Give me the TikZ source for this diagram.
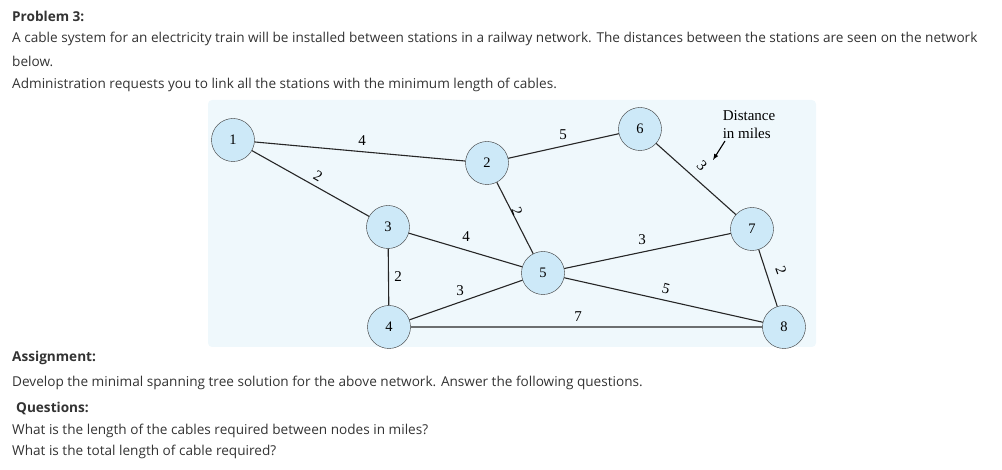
\documentclass[tikz,border=0pt]{standalone}
\usepackage{fontspec}
\setmainfont{Open Sans}
\newfontfamily\serifd{Liberation Serif}
\begin{document}
\begin{tikzpicture}[x=1pt,y=-1pt,
 txt/.style={anchor=west,inner sep=0pt,font=\fontsize{13.6}{16}\selectfont,text=black!80},
 hd/.style={txt,font=\bfseries\fontsize{13.6}{16}\selectfont},
 stn/.style={circle,draw=black!80,fill=nodeblue,minimum size=43pt,inner sep=0pt,font=\serifd\fontsize{14.5}{16}\selectfont},
 wt/.style={font=\serifd\fontsize{15}{16}\selectfont,inner sep=1pt},
 edge/.style={draw=black!85,line width=1.1pt}]
\definecolor{nodeblue}{HTML}{CDE9F8}
\definecolor{panel}{HTML}{EFF8FC}
\useasboundingbox (0,0) rectangle (1002,470);
\fill[panel,rounded corners=4pt] (208,100) rectangle (816,347);
\node[hd] (t1) at (12,16) {Problem 3:};
\node[txt] (t2) at (12,39) {A cable system for an electricity train will be installed between stations in a railway network. The distances between the stations are seen on the network};
\node[txt] (t3) at (12,61) {below.};
\node[txt] (t4) at (12,85) {Administration requests you to link all the stations with the minimum length of cables.};
\node[hd] (t5) at (12,358) {Assignment:};
\node[txt] (t6) at (12,383) {Develop the minimal spanning tree solution for the above network. Answer the following questions.};
\node[hd] (t7) at (16,408) {Questions:};
\node[txt] (t8) at (12,431) {What is the length of the cables required between nodes in miles?};
\node[txt] (t9) at (12,452) {What is the total length of cable required?};
\node[stn] (n1) at (233,140) {1};
\node[stn] (n2) at (487,163) {2};
\node[stn] (n3) at (388,227) {3};
\node[stn] (n4) at (389,327) {4};
\node[stn] (n5) at (543,273) {5};
\node[stn] (n6) at (640,129) {6};
\node[stn] (n7) at (752,229) {7};
\node[stn] (n8) at (784,327) {8};
\path[edge] (n1)--(n2) (n1)--(n3) (n2)--(n6) (n2)--(n5) (n3)--(n5) (n3)--(n4)
 (n4)--(n5) (n4)--(n8) (n5)--(n7) (n5)--(n8) (n6)--(n7) (n7)--(n8);
\node[wt] (w12) at (362,141) {4};
\node[wt,rotate=-30] (w13) at (318,176) {2};
\node[wt] (w26) at (563,135) {5};
\node[wt,rotate=-70] (w25) at (517,211) {2};
\node[wt] (w35) at (466,237) {4};
\node[wt] (w34) at (398,277) {2};
\node[wt] (w45) at (460,291) {3};
\node[wt] (w57) at (642,240) {3};
\node[wt,rotate=-15] (w58) at (666,289) {5};
\node[wt] (w48) at (578,317) {7};
\node[wt,rotate=-45] (w67) at (702,166) {3};
\node[wt,rotate=-70] (w78) at (781,270) {2};
\node[font=\serifd\fontsize{15}{18}\selectfont,align=left,inner sep=0pt] (dist) at (749,125) {Distance\\ in miles};
\coordinate (tip) at (713,160);
\coordinate (tail) at (725,141);
\draw[-latex,line width=1.1pt] (tail) -- (tip);
\end{tikzpicture}
\end{document}
